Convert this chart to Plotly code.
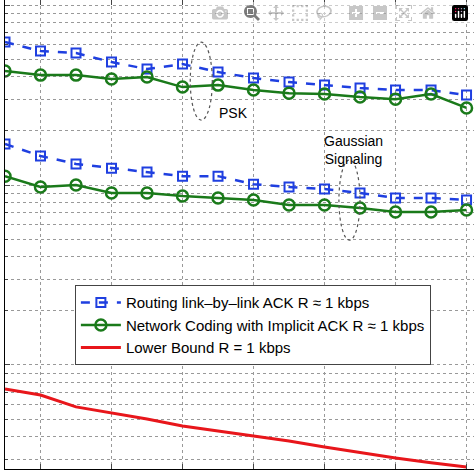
import plotly.graph_objects as go

x = list(range(14))
routing_psk = [62.3, 55.5, 54.1, 48.2, 44.1, 47.0, 42.4, 39.3, 37.3, 35.9, 34.6, 33.7, 33.7, 31.6]
nc_psk = [43.0, 40.8, 40.8, 38.8, 39.8, 35.0, 35.9, 33.7, 32.4, 32.0, 30.8, 30.0, 32.0, 26.8]
routing_gauss = [16.9, 14.5, 13.1, 12.4, 11.8, 11.2, 11.2, 10.1, 9.75, 9.5, 9.03, 8.47, 8.47, 8.25]
nc_gauss = [11.2, 9.75, 10.0, 9.03, 9.03, 8.69, 8.47, 8.25, 7.74, 7.74, 7.45, 7.08, 7.08, 7.26]
lower_bound = [0.736, 0.681, 0.585, 0.541, 0.501, 0.458, 0.430, 0.403, 0.378, 0.350, 0.325, 0.304, 0.286, 0.271]
x_ticks = [1, 3, 5, 7, 9, 11, 13]

blue = "#1f3fe0"
green = "#1a7a1a"
fig = go.Figure()
bl = dict(color=blue, width=2.5, dash="dash")
bm = dict(symbol="square-open", size=9, color=blue, line=dict(width=2, color=blue))
gl = dict(color=green, width=2.5)
gm = dict(symbol="circle-open", size=11, color=green, line=dict(width=2.5, color=green))
fig.add_trace(go.Scatter(x=x, y=routing_psk, mode="lines+markers", line=bl, marker=bm,
                         name="Routing link\u2013by\u2013link ACK R \u2248 1 kbps"))
fig.add_trace(go.Scatter(x=x, y=nc_psk, mode="lines+markers", line=gl, marker=gm,
                         name="Network Coding with Implicit ACK R \u2248 1 kbps"))
fig.add_trace(go.Scatter(x=x, y=routing_gauss, mode="lines+markers", line=bl, marker=bm, showlegend=False))
fig.add_trace(go.Scatter(x=x, y=nc_gauss, mode="lines+markers", line=gl, marker=gm, showlegend=False))
fig.add_trace(go.Scatter(x=x, y=lower_bound, mode="lines", line=dict(color="#e8161b", width=3),
                         name="Lower Bound R = 1 kbps"))

grid = dict(showgrid=True, gridcolor="#999", griddash="dot", gridwidth=1)
fig.update_layout(
    width=474, height=471, margin=dict(l=5, r=0, t=0, b=2),
    paper_bgcolor="white", plot_bgcolor="white",
    font=dict(family="Liberation Sans, Arial", size=13, color="black"),
    xaxis=dict(range=[0, 13.21], tickmode="array", tickvals=x_ticks, showticklabels=False, ticks="inside",
               ticklen=5, mirror="ticks", showline=True, linecolor="black", zeroline=False, **grid),
    yaxis=dict(type="log", range=[-0.578, 2.028], dtick=1, showticklabels=False, ticks="inside",
               ticklen=5, showline=True, linecolor="black", zeroline=False,
               minor=dict(ticks="inside", ticklen=3, showgrid=True, gridcolor="#999", griddash="dot"),
               **grid),
    legend=dict(x=0.149, y=0.392, xanchor="left", yanchor="top", bordercolor="#444", borderwidth=1,
                bgcolor="white", font=dict(size=15), tracegroupgap=0, itemwidth=40),
    shapes=[
        dict(type="circle", xref="paper", yref="paper", x0=0.395, x1=0.442, y0=0.744, y1=0.910,
             line=dict(color="#555", width=1.2, dash="dot")),
        dict(type="circle", xref="paper", yref="paper", x0=0.712, x1=0.757, y0=0.488, y1=0.659,
             line=dict(color="#555", width=1.2, dash="dot")),
    ],
    annotations=[
        dict(text="PSK", xref="paper", yref="paper", x=0.452, y=0.759, xanchor="left",
             yanchor="middle", showarrow=False, font=dict(size=14)),
        dict(text="Gaussian<br>Signaling", xref="paper", yref="paper", x=0.744, y=0.68,
             xanchor="center", yanchor="middle", showarrow=False, font=dict(size=14)),
    ],
)
fig.write_html("out.html", post_script="document.body.style.margin='0';")
